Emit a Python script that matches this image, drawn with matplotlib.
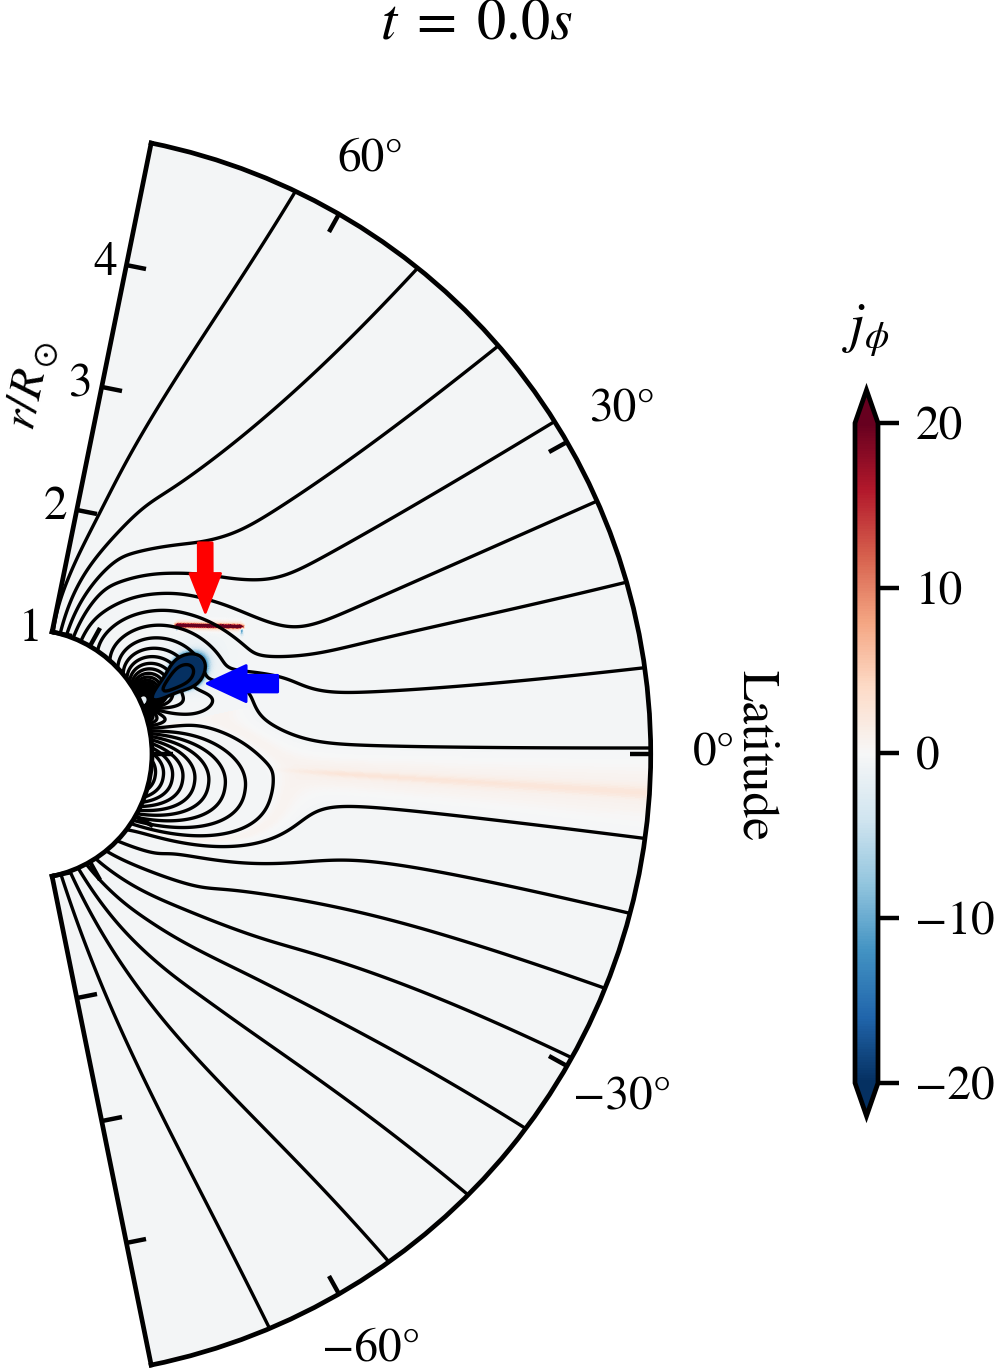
import numpy as np
import matplotlib.pyplot as plt

plt.rcParams['font.family'] = ['STIXGeneral', 'DejaVu Serif']
plt.rcParams['mathtext.fontset'] = 'stix'

# domain
lat_edge = 78.54
r_in, r_out = 1.0, 5.0

# open field lines: latitude where each one meets the outer arc and the surface
level_idx = [1, 2, 3, 4, 5, 6, 7, 8]
outer_lat_north = [63.6, 51.0, 40.8, 32.2, 23.9, 16.0, 7.9, 0.5]
outer_lat_south = [-66.2, -54.3, -44.9, -36.9, -29.1, -22.1, -14.8, -7.8]
foot_lat_north = [76.0, 73.0, 69.0, 65.0, 22.5, 21.0, 19.0, 16.5]
foot_lat_south = [-74.0, -70.0, -66.0, -62.0, -57.0, -51.0, -44.0, -37.5]
sheet_lat = -3.6
sheet_level = 8.6

# helmet streamer (closed loops)
streamer_lat = -9.7
streamer_peak = 17.7
streamer_width = 28.5
streamer_shape = 2.3
levels = np.arange(1, 25)

# embedded bipole: arcade loops rooted near one point
arcade_r, arcade_lat = 0.985, 23.0
arcade_tilt = 42.0
arcade_strength = 2.4

# flux rope (dark j_phi blob)
rope_r, rope_lat = 1.35, 26.6
rope_tilt = 39.0
rope_len, rope_wid = 0.27, 0.16
rope_contours = [0.3, 0.9]


def profile(lat, pts, vals, sigma):
    # piecewise-linear profile through the read-off points, lightly smoothed
    fine = np.linspace(-lat_edge - 10, lat_edge + 10, 4000)
    order = np.argsort(pts)
    p = np.interp(fine, np.asarray(pts)[order], np.asarray(vals)[order])
    step = fine[1] - fine[0]
    kx = np.arange(-4 * sigma, 4 * sigma + step, step)
    ker = np.exp(-0.5 * (kx / sigma) ** 2)
    ker /= ker.sum()
    pad = len(kx) // 2
    ps = np.convolve(np.pad(p, pad, mode='edge'), ker, mode='same')[pad:-pad]
    return np.interp(lat, fine, ps)


def flux(r, lat):
    s_lat = np.r_[-lat_edge, foot_lat_south, sheet_lat, foot_lat_north[::-1], lat_edge]
    s_val = np.r_[0.0, level_idx, sheet_level, level_idx[::-1], 0.0]
    surf = profile(lat, s_lat, s_val, 1.5)
    f_lat = np.r_[-lat_edge, outer_lat_south, sheet_lat, outer_lat_north[::-1], lat_edge]
    f_val = np.r_[0.0, level_idx, sheet_level, level_idx[::-1], -0.2]
    far = profile(lat, f_lat, f_val, 1.2)
    L = 1.2
    w = (1 - np.exp(-(r - 1) / L)) / (1 - np.exp(-4 / L))
    a_open = (1 - w) * surf + w * far
    d = np.abs(lat - streamer_lat) / streamer_width
    a_str = streamer_peak * np.exp(-d ** streamer_shape) / r
    k = 2.0
    m = np.maximum(a_open, a_str)
    a = m + np.log(np.exp(k * (a_open - m)) + np.exp(k * (a_str - m))) / k

    x, y = r * np.cos(np.radians(lat)), r * np.sin(np.radians(lat))
    # arcade: circles through a point just below the surface
    px, py = arcade_r * np.cos(np.radians(arcade_lat)), arcade_r * np.sin(np.radians(arcade_lat))
    ca = np.radians(arcade_lat + arcade_tilt)
    dx, dy = x - px, y - py
    dc = dx * np.cos(ca) + dy * np.sin(ca)
    d2 = dx ** 2 + dy ** 2
    pos = dc / (1 + np.exp(-np.clip(dc / 0.08, -50, 50)))
    a = a + arcade_strength * pos / d2 * np.exp(-(d2 / 1.3) ** 2)

    xc, yc = rope_r * np.cos(np.radians(rope_lat)), rope_r * np.sin(np.radians(rope_lat))
    t = np.radians(rope_tilt)
    u = (x - xc) * np.cos(t) + (y - yc) * np.sin(t)
    v = -(x - xc) * np.sin(t) + (y - yc) * np.cos(t)
    return a, u, v, x, y


lat = np.linspace(-lat_edge, lat_edge, 1000)
r = 1 + 4 * np.linspace(0, 1, 800) ** 1.5
LAT, R = np.meshgrid(lat, r)
A, U, V, X, Y = flux(R, LAT)
# tear-drop shaped rope: thinner towards the surface
rho = (U / rope_len) ** 2 + (V / (rope_wid * (0.72 + 0.28 * np.tanh(U / 0.12)))) ** 2

# current density j_phi
J = -0.4 * np.ones_like(A)
J += -27 * np.exp(-rho ** 3) - 5 * np.exp(-rho)
sheet_x = np.clip((X - 1.17) / 0.04, 0, 1) * np.clip((1.75 - X) / 0.04, 0, 1)
y_sheet = 1.035 - 0.02 * (X - 1.19)
J += sheet_x * (30 * np.exp(-((Y - y_sheet) / 0.014) ** 2) + 6 * np.exp(-((Y - y_sheet) / 0.035) ** 2))
J += -12 * np.exp(-((X - 1.72) ** 2 + ((Y - 0.99) / 2.5) ** 2) / 0.012 ** 2)
J += -8 * np.exp(-((X - 1.2) ** 2 + (Y - 1.0) ** 2) / 0.01 ** 2)
ramp = np.clip((R - 1.9) / 0.6, 0, 1)
J += ramp * (1.5 * np.exp(-((LAT - sheet_lat) / 0.5) ** 2) + 0.6 * np.exp(-((LAT - sheet_lat) / 2.5) ** 2))
J += np.where((LAT < 12) & (R > 1.15), 1.0 * np.exp(-((A - sheet_level) / 0.3) ** 2), 0)

fig = plt.figure(figsize=(5, 6.845), dpi=200)
# polar wedge boxes are squared by matplotlib: give a square box centred on the wedge
ax = fig.add_axes([-0.2596, 0.0029, 1.222, 0.8926], projection='polar')
ax.set_thetamin(-lat_edge)
ax.set_thetamax(lat_edge)
ax.set_rlim(r_in, r_out)
ax.set_rorigin(0)

pc = ax.pcolormesh(np.radians(LAT), R, J, cmap='RdBu_r', vmin=-20, vmax=20,
                   shading='auto', rasterized=True)
A_lines = np.ma.masked_where(rho < 0.9, A)
ax.contour(np.radians(LAT), R, A_lines, levels=levels, colors='k', linewidths=1.2)
ax.contour(np.radians(LAT), R, rho, levels=rope_contours, colors='k', linewidths=1.2)

ax.grid(False)
ax.set_xticks(np.radians([60, 30, 0, -30, -60]))
ax.set_xticklabels(['60°', '30°', '0°', '\u221230°', '\u221260°'])
ax.set_yticks([1, 2, 3, 4])
ax.set_yticklabels(['1', '2', '3', '4'])
ax.tick_params(axis='x', direction='in', length=7.5, width=1.6, pad=16, labelsize=17)
ax.tick_params(axis='y', direction='in', length=7.5, width=1.6, labelsize=17)
ax.xaxis.set_tick_params(tick1On=True, tick2On=True)
ax.yaxis.set_tick_params(tick1On=True, tick2On=True, label1On=False, label2On=True)
for sp in ax.spines.values():
    sp.set_linewidth(1.7)

# arrows
ax.annotate('', xy=(np.radians(38.5), 1.825), xytext=(np.radians(49.9), 2.215),
            arrowprops=dict(arrowstyle='simple,head_width=1.1,head_length=1.4,tail_width=0.5',
                            color='red', shrinkA=0, shrinkB=0, mutation_scale=10))
ax.annotate('', xy=(np.radians(21.4), 1.55), xytext=(np.radians(15.7), 2.086),
            arrowprops=dict(arrowstyle='simple,head_width=1.3,head_length=1.4,tail_width=0.6',
                            color='blue', shrinkA=0, shrinkB=0, mutation_scale=10))

fig.text(0.476, 0.982, r'$t\;=\;0.0s$', fontsize=21, ha='center', va='center')
fig.text(0.755, 0.4485, 'Latitude', fontsize=18.5, rotation=270, ha='center', va='center')
fig.text(0.031, 0.719, r'$r/R_\odot$', fontsize=17, rotation=78.5, ha='center', va='center')

cax = fig.add_axes([0.855, 0.1848, 0.023, 0.5303])
cb = fig.colorbar(pc, cax=cax, extend='both', ticks=[-20, -10, 0, 10, 20])
cb.outline.set_linewidth(1.7)
cax.tick_params(length=7.5, width=1.6, labelsize=17, pad=6)
fig.text(0.866, 0.758, r'$j_\phi$', fontsize=20, ha='center', va='center')

fig.savefig('out.png', dpi=200)
